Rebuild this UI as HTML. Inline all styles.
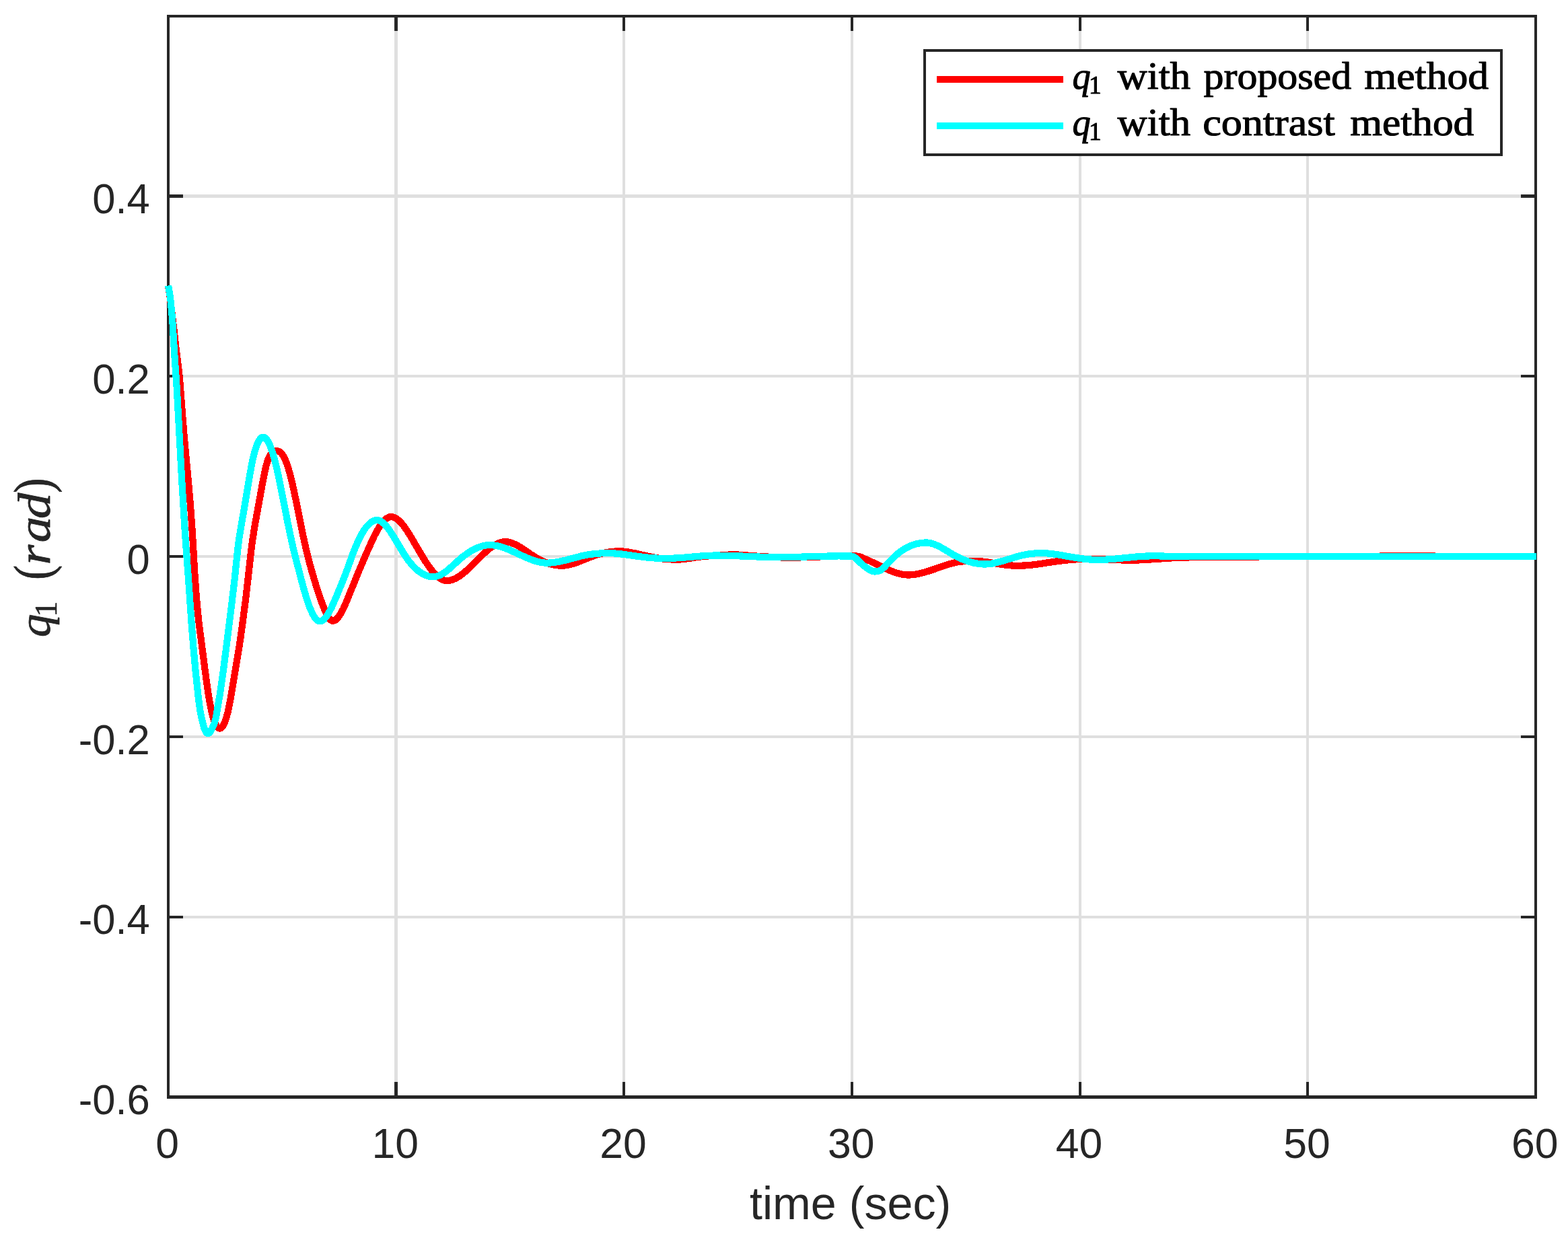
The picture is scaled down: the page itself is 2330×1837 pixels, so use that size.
<!DOCTYPE html>
<html lang="en">
<head>
<meta charset="utf-8">
<title>q1 response: proposed method vs contrast method</title>
<style>
html,body{margin:0;padding:0;background:#fff;}
body{width:2330px;height:1837px;overflow:hidden;}
svg{display:block;}
.tick{font-family:"Liberation Sans",Arial,Helvetica,sans-serif;font-size:62.5px;fill:#262626;}
.xlab{font-family:"Liberation Sans",Arial,Helvetica,sans-serif;font-size:68.75px;fill:#262626;}
.ylab{font-family:"Liberation Serif","Times New Roman",serif;font-size:70px;fill:#262626;stroke:#262626;stroke-width:0.9px;stroke-linejoin:round;}
.leg{font-family:"Liberation Serif","Times New Roman",serif;font-size:56.3px;fill:#000;stroke:#000;stroke-width:1.1px;stroke-linejoin:round;}
.it{font-style:italic;}
</style>
</head>
<body>
<svg width="2330" height="1837" viewBox="0 0 2330 1837">
<rect x="0" y="0" width="2330" height="1837" fill="#ffffff"/>
<g fill="#dfdfdf" shape-rendering="crispEdges">
<rect x="586" y="26" width="5" height="1602"/>
<rect x="925" y="26" width="4" height="1602"/>
<rect x="1264" y="26" width="4" height="1602"/>
<rect x="1603" y="26" width="4" height="1602"/>
<rect x="1941" y="26" width="4" height="1602"/>
<rect x="252" y="289" width="2028" height="5"/>
<rect x="252" y="557" width="2028" height="4"/>
<rect x="252" y="825" width="2028" height="4"/>
<rect x="252" y="1093" width="2028" height="4"/>
<rect x="252" y="1361" width="2028" height="4"/>
</g>
<g fill="#262626" shape-rendering="crispEdges">
<rect x="248" y="22" width="2036" height="4"/>
<rect x="248" y="1628" width="2036" height="5"/>
<rect x="248" y="22" width="4" height="1611"/>
<rect x="2280" y="22" width="4" height="1611"/>
<rect x="586" y="1608" width="5" height="20"/>
<rect x="586" y="26" width="5" height="20"/>
<rect x="925" y="1608" width="4" height="20"/>
<rect x="925" y="26" width="4" height="20"/>
<rect x="1264" y="1608" width="4" height="20"/>
<rect x="1264" y="26" width="4" height="20"/>
<rect x="1603" y="1608" width="4" height="20"/>
<rect x="1603" y="26" width="4" height="20"/>
<rect x="1941" y="1608" width="4" height="20"/>
<rect x="1941" y="26" width="4" height="20"/>
<rect x="252" y="289" width="20" height="5"/>
<rect x="2260" y="289" width="20" height="5"/>
<rect x="252" y="557" width="20" height="4"/>
<rect x="2260" y="557" width="20" height="4"/>
<rect x="252" y="825" width="20" height="4"/>
<rect x="2260" y="825" width="20" height="4"/>
<rect x="252" y="1093" width="20" height="4"/>
<rect x="2260" y="1093" width="20" height="4"/>
<rect x="252" y="1361" width="20" height="4"/>
<rect x="2260" y="1361" width="20" height="4"/>
</g>
<g fill="none" stroke-width="10.2" stroke-linejoin="round" stroke-linecap="butt" shape-rendering="crispEdges">
<path stroke="#ff0000" d="M250.0,424.6 251.2,431.6 252.5,440.9 257.8,484.3 261.8,519.3 265.2,546.7 267.0,563.5 273.5,646.6 280.5,721.8 283.2,754.2 286.2,796.9 289.2,849.7 290.8,873.0 292.8,898.2 295.2,922.7 306.5,1010.0 309.5,1030.7 312.2,1046.9 313.8,1054.4 315.5,1062.0 317.0,1067.6 318.8,1072.9 320.2,1076.5 322.0,1079.6 323.8,1081.6 324.5,1082.2 325.5,1082.5 326.5,1082.6 327.8,1082.2 329.0,1081.5 330.0,1080.5 331.2,1078.9 332.2,1077.2 334.2,1072.9 336.2,1067.1 338.2,1059.9 340.2,1051.0 342.2,1040.4 353.5,973.3 356.8,952.5 359.5,933.4 365.0,891.1 368.2,863.3 372.8,822.2 374.2,810.1 376.0,797.8 379.2,778.2 389.2,722.8 392.2,707.1 394.2,697.8 396.2,689.7 398.0,684.0 400.0,679.0 402.0,675.4 403.0,674.0 404.2,672.7 405.2,671.9 406.5,671.1 407.8,670.6 409.2,670.3 412.2,670.2 414.2,670.7 416.5,672.2 418.5,674.2 420.8,677.4 423.0,681.5 425.2,686.7 427.2,692.2 429.2,698.6 431.2,705.9 435.8,724.7 440.0,744.6 450.2,795.1 455.2,818.0 459.2,834.2 464.8,854.0 469.5,869.7 474.5,885.1 478.8,897.3 482.5,906.8 485.8,913.7 487.2,916.3 488.8,918.5 490.2,920.3 491.5,921.4 493.0,922.3 494.2,922.7 496.0,922.5 497.8,921.9 499.5,920.7 501.5,918.7 503.5,916.2 505.5,913.2 507.5,909.8 509.8,905.4 512.5,899.5 515.5,892.6 532.2,851.3 545.5,820.1 553.8,801.8 557.2,794.6 560.5,788.6 563.2,783.9 566.0,779.7 568.5,776.3 571.0,773.5 573.5,771.2 575.8,769.7 578.2,768.5 580.5,768.1 582.8,768.2 585.0,768.8 587.2,769.8 589.5,771.2 592.0,773.1 594.5,775.5 597.0,778.2 599.8,781.6 604.2,787.8 609.2,795.6 625.8,823.9 632.0,834.1 638.5,843.6 644.2,850.8 646.8,853.5 649.2,856.0 651.8,858.1 654.2,859.8 656.8,861.3 659.0,862.2 661.2,862.8 663.5,863.1 665.8,863.0 668.0,862.8 670.2,862.3 672.8,861.5 677.5,859.4 682.8,856.3 688.2,852.3 694.5,846.9 701.2,840.5 718.8,823.0 724.0,818.2 728.8,814.3 734.5,810.4 737.2,808.9 740.0,807.6 742.5,806.6 745.0,805.9 747.5,805.4 750.0,805.2 754.0,805.4 758.0,806.2 762.2,807.7 767.0,809.8 771.0,812.0 775.5,814.8 790.5,825.0 795.8,828.3 801.8,831.8 807.5,834.5 813.2,836.8 818.8,838.5 824.5,839.8 830.0,840.5 834.5,840.7 838.5,840.6 842.8,840.0 847.2,839.1 851.8,837.8 856.8,836.2 878.8,827.5 884.5,825.4 890.0,823.7 896.8,822.0 903.5,820.7 910.0,819.8 916.5,819.4 921.0,819.3 925.5,819.5 930.2,820.0 935.2,820.7 944.5,822.5 966.5,827.5 979.2,829.8 991.0,831.1 1002.5,831.7 1009.0,831.6 1015.8,831.1 1022.0,830.3 1037.0,827.9 1044.0,827.1 1068.8,825.2 1084.5,824.5 1091.8,824.4 1098.2,824.6 1128.5,826.9 1155.5,828.3 1171.5,828.7 1182.5,828.6 1195.0,828.3 1232.2,826.9 1250.0,826.1 1260.0,825.9 1273.2,826.5 1275.2,826.8 1277.5,827.4 1281.0,828.7 1293.0,834.0 1316.2,845.2 1326.5,849.6 1332.5,851.7 1338.2,853.2 1343.5,854.1 1348.5,854.5 1353.5,854.4 1359.0,853.8 1364.8,852.8 1370.8,851.4 1381.8,848.1 1407.0,839.5 1413.2,837.7 1418.8,836.3 1423.0,835.4 1427.5,834.8 1432.2,834.3 1437.5,834.1 1451.2,834.0 1458.5,834.4 1468.0,835.5 1487.5,838.8 1495.8,839.9 1504.8,840.6 1514.8,840.8 1524.5,840.4 1535.2,839.4 1545.5,838.0 1570.2,834.3 1585.8,832.5 1599.8,831.3 1613.0,830.7 1629.0,830.9 1665.5,832.4 1681.8,832.7 1691.2,832.5 1701.8,832.0 1738.8,829.5 1753.2,828.7 1776.5,828.2 1811.5,827.8 1887.5,827.3 2074.2,826.5 2115.5,826.5 2193.5,827.0 2283.0,826.9"/>
<path stroke="#00ffff" d="M250.0,424.6 252.0,435.3 253.5,446.7 255.2,464.0 256.5,480.0 259.2,525.4 262.8,577.5 270.2,713.5 274.2,780.1 276.2,809.9 279.8,857.0 284.8,929.0 287.8,966.9 290.2,993.3 294.2,1031.9 295.8,1045.0 297.2,1055.3 298.5,1062.1 300.2,1070.2 301.8,1076.4 303.2,1081.7 304.5,1085.0 306.0,1087.8 307.2,1089.2 308.0,1089.7 308.8,1089.9 309.8,1089.9 310.8,1089.4 311.8,1088.4 313.0,1086.7 314.5,1084.0 316.8,1079.3 319.0,1073.4 320.5,1067.7 321.8,1061.5 326.8,1031.8 329.2,1015.6 331.8,997.3 344.2,898.4 348.5,862.0 353.0,818.7 355.0,802.7 357.8,784.8 363.2,754.1 370.2,711.6 373.0,695.9 375.2,684.6 377.2,676.0 379.2,668.7 381.5,661.9 383.8,656.7 386.0,653.0 387.0,651.8 388.2,650.7 389.2,650.2 390.5,649.8 391.5,649.8 392.5,650.1 393.5,650.6 394.8,651.6 396.8,653.9 399.0,657.5 401.0,661.7 403.2,667.5 405.5,674.2 407.8,682.0 411.0,695.0 414.5,710.9 428.0,779.0 431.8,797.0 435.0,811.6 438.8,827.2 448.0,862.6 451.8,876.5 454.8,886.6 457.5,895.1 460.2,902.7 462.8,908.6 465.2,913.7 467.8,917.8 470.2,920.8 471.5,921.9 472.8,922.7 474.0,923.2 475.0,923.4 477.0,923.2 479.0,922.3 481.0,920.9 483.2,918.5 485.5,915.6 487.8,912.1 490.2,907.6 492.8,902.7 499.2,888.1 510.5,860.7 516.2,845.6 524.2,823.3 528.0,813.7 532.8,802.9 537.5,793.7 540.5,788.7 543.2,784.7 546.0,781.3 548.8,778.5 551.5,776.2 554.2,774.6 557.0,773.5 559.5,773.1 561.2,773.2 563.2,773.6 565.0,774.3 567.0,775.4 569.0,776.9 571.0,778.7 575.2,783.4 579.0,788.5 583.2,794.9 597.8,819.2 603.2,827.8 606.2,832.1 609.5,836.3 612.5,839.8 615.8,843.3 619.0,846.4 622.5,849.2 625.8,851.5 629.2,853.5 632.5,855.0 636.0,856.2 639.5,857.0 643.0,857.3 646.8,857.1 650.8,856.1 655.0,854.2 659.5,851.6 663.5,848.7 667.8,845.2 682.2,832.1 688.0,827.2 695.0,822.1 702.0,817.7 708.5,814.5 711.8,813.2 715.0,812.1 718.2,811.2 721.2,810.6 724.5,810.2 727.5,810.1 732.0,810.2 736.5,810.8 741.2,811.8 746.2,813.2 751.2,815.0 756.8,817.2 778.8,827.3 789.8,831.9 795.2,833.7 800.2,835.1 805.0,836.1 809.5,836.6 813.8,836.7 819.0,836.4 824.2,835.9 829.8,834.9 840.0,832.7 863.0,826.6 868.8,825.4 874.5,824.3 880.5,823.5 886.8,822.8 893.0,822.4 899.5,822.1 908.0,822.1 916.5,822.7 925.2,823.7 947.0,826.8 959.8,828.4 973.2,829.5 985.5,830.0 994.2,829.9 1004.0,829.5 1014.5,828.8 1044.2,826.3 1053.5,825.8 1062.0,825.5 1083.5,825.8 1131.2,827.7 1152.2,828.2 1175.8,828.0 1233.2,826.5 1246.8,826.4 1266.0,826.6 1267.0,826.7 1268.0,827.1 1270.2,828.5 1272.2,830.2 1278.0,836.0 1284.5,841.5 1289.2,845.0 1292.5,847.0 1295.2,848.4 1297.8,849.2 1300.0,849.5 1303.0,849.3 1305.8,848.7 1308.2,847.6 1310.5,846.1 1314.0,843.0 1323.8,832.5 1331.0,825.5 1334.5,822.6 1338.2,819.7 1341.8,817.3 1345.5,815.0 1349.0,813.1 1352.5,811.5 1356.0,810.1 1359.8,808.8 1363.5,807.9 1367.2,807.2 1371.0,806.7 1374.8,806.5 1378.8,806.6 1382.8,807.3 1387.0,808.5 1391.5,810.2 1395.5,812.1 1399.8,814.4 1414.8,823.4 1420.5,826.6 1427.8,830.2 1435.0,833.1 1441.8,835.3 1448.5,837.0 1455.2,838.1 1461.8,838.5 1466.0,838.4 1470.5,838.1 1475.2,837.4 1480.2,836.3 1489.2,834.0 1511.2,827.3 1517.2,825.7 1523.2,824.4 1529.0,823.4 1534.8,822.7 1540.2,822.2 1545.8,822.0 1553.5,822.2 1562.0,823.0 1571.0,824.2 1595.5,828.4 1607.5,830.3 1619.5,831.5 1630.0,832.0 1638.8,831.9 1648.5,831.3 1659.2,830.4 1691.5,827.2 1701.8,826.6 1711.0,826.3 1722.2,826.4 1748.0,827.1 1759.5,827.3 1893.5,826.9 2283.0,826.9"/>
</g>
<g class="tick" text-anchor="end">
<text transform="translate(222.8,317.1) scale(0.985,1)">0.4</text>
<text transform="translate(222.8,584.9) scale(0.985,1)">0.2</text>
<text transform="translate(222.8,852.7) scale(0.985,1)">0</text>
<text transform="translate(222.8,1120.5) scale(0.985,1)">-0.2</text>
<text transform="translate(222.8,1388.3) scale(0.985,1)">-0.4</text>
<text transform="translate(222.8,1656.1) scale(0.985,1)">-0.6</text>
</g>
<g class="tick" text-anchor="middle">
<text x="248.6" y="1721.3">0</text>
<text x="587.3" y="1721.3">10</text>
<text x="926.0" y="1721.3">20</text>
<text x="1264.7" y="1721.3">30</text>
<text x="1603.4" y="1721.3">40</text>
<text x="1942.1" y="1721.3">50</text>
<text x="2280.8" y="1721.3">60</text>
</g>
<text class="xlab" text-anchor="middle" transform="translate(1263.6,1812) scale(0.992,1)">time (sec)</text>
<g transform="translate(74.6,945.2) rotate(-90)" class="ylab">
<text class="it" transform="translate(-1.80,-1.01) scale(0.985,0.947)">q</text>
<text transform="translate(28.55,8.90) scale(0.661,0.675)">1</text>
<text transform="translate(83.48,0.43) scale(0.933,1.127)">(</text>
<text transform="translate(212.40,0.28) scale(0.959,1.124)">)</text>
<text class="it" transform="translate(0,-0.75) scale(1.095,0.973)" x="96.55 126.97 159.19" y="0">rad</text>
</g>
<g shape-rendering="crispEdges">
<rect x="1372" y="73" width="861" height="159" fill="#262626"/>
<rect x="1376" y="77" width="853" height="151" fill="#ffffff"/>
<rect x="1392" y="113" width="188" height="10" fill="#ff0000"/>
<rect x="1392" y="182" width="188" height="10" fill="#00ffff"/>
</g>
<g class="leg">
<text class="it" transform="translate(1593.61,132.00) scale(0.967,1)">q</text>
<text transform="translate(1618.08,139.30) scale(0.993,1)" font-size="37.6">1</text>
<text transform="translate(1660.50,132.00) scale(1.086,1)">with</text>
<text transform="translate(1788.59,132.00) scale(1.064,1)">proposed</text>
<text transform="translate(2027.27,132.00) scale(1.095,1)">method</text>
</g>
<g class="leg">
<text class="it" transform="translate(1593.61,201.00) scale(0.967,1)">q</text>
<text transform="translate(1618.08,208.30) scale(0.993,1)" font-size="37.6">1</text>
<text transform="translate(1660.50,201.00) scale(1.086,1)">with</text>
<text transform="translate(1787.18,201.00) scale(1.103,1)">contrast</text>
<text transform="translate(2006.27,201.00) scale(1.090,1)">method</text>
</g>
</svg>
</body>
</html>
